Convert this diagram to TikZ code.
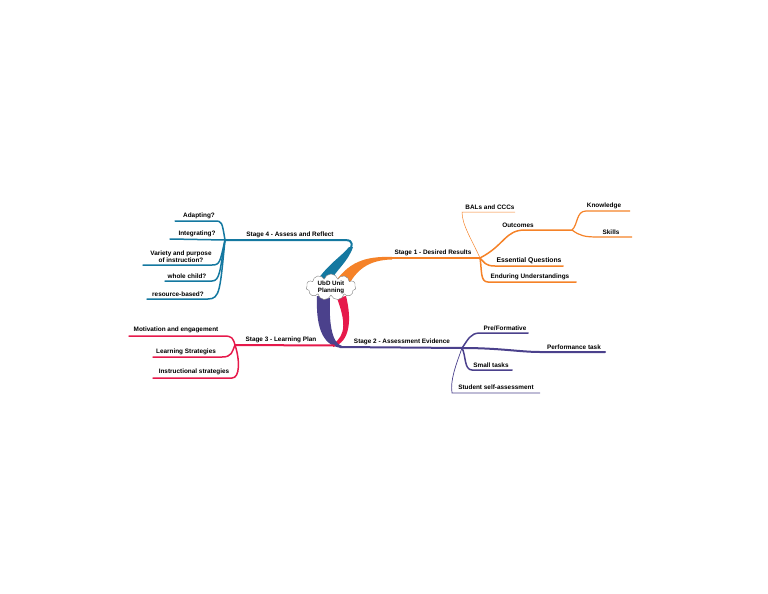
\documentclass[tikz,border=0pt]{standalone}
\usepackage{fontspec}
\setmainfont{Liberation Sans}
\usetikzlibrary{shapes.symbols}
\definecolor{teal4}{RGB}{20,120,160}
\definecolor{org1}{RGB}{245,130,40}
\definecolor{pur2}{RGB}{75,65,140}
\definecolor{red3}{RGB}{230,25,75}
\begin{document}
\begin{tikzpicture}[x=1pt,y=-1pt,
  lab/.style={font=\fontsize{6.4}{7}\selectfont\bfseries, inner sep=1pt, anchor=south},
  br/.style={line width=2pt, line cap=round},
  sub/.style={line width=1.5pt, line cap=round}]
\useasboundingbox (0,0) rectangle (768,594);
% main tapered branches
\fill[red3] (337,298) .. controls (345,320) and (347,335) .. (333,344) -- (333,347) .. controls (350,342) and (352,320) .. (346,296) -- cycle;
\fill[pur2] (317,296) .. controls (316,322) and (320,346) .. (342,348) -- (342,346) .. controls (331,343) and (329,320) .. (330,298) -- cycle;
\fill[teal4] (316,282) .. controls (328,264) and (342,256) .. (349,247) -- (353,247) .. controls (348,262) and (336,270) .. (330,282) -- cycle;
\fill[org1] (333,285) .. controls (348,262) and (365,256) .. (392,257) -- (392,259.5) .. controls (368,260) and (356,270) .. (347,288) -- cycle;
\node[cloud, cloud puffs=11, draw=gray, fill=white, aspect=2, minimum width=50pt, minimum height=26pt, inner sep=0pt, align=center, font=\fontsize{6.2}{7}\selectfont\bfseries] (c) at (331,287) {UbD Unit\\Planning};

% Stage 4
\coordinate (h4) at (225,240);
\draw[teal4,br] (351,248) .. controls (353,240) and (350,240) .. (340,240) -- (h4);
\node[lab] (s4) at (290,239) {Stage 4 - Assess and Reflect};
\node[lab] (a1) at (199,220) {Adapting?};
\node[lab] (a2) at (197,238) {Integrating?};
\node[lab,align=center] (a3) at (181,264) {Variety and purpose\\of instruction?};
\node[lab] (a4) at (187,280) {whole child?};
\node[lab] (a5) at (178,298) {resource-based?};
\draw[teal4,sub] (h4) .. controls (222,222) and (222,221) .. (215,221) -- (175,221);
\draw[teal4,sub] (h4) -- (170,239);
\draw[teal4,sub] (h4) .. controls (220,262) and (220,265) .. (212,265) -- (143,265);
\draw[teal4,sub] (h4) .. controls (220,270) and (220,281) .. (212,281) -- (165,281);
\draw[teal4,sub] (h4) .. controls (220,290) and (220,299) .. (208,299) -- (147,299);

% Stage 1
\coordinate (h1) at (480,258);
\draw[org1,br] (390,258) -- (h1);
\node[lab] (s1) at (433,257) {Stage 1 - Desired Results};
\node[lab] (b1) at (490,211) {BALs and CCCs};
\node[lab] (b2) at (518,229) {Outcomes};
\node[lab] (k1) at (604,210) {Knowledge};
\node[lab] (k2) at (611,236) {Skills};
\node[lab,font=\fontsize{6.8}{7}\selectfont\bfseries] (b3) at (529,265) {Essential Questions};
\node[lab] (b4) at (530,281) {Enduring Understandings};
\draw[org1,line width=0.5pt] (h1) .. controls (472,240) and (462,225) .. (462,212) -- (515,212);
\draw[org1,sub] (h1) .. controls (505,245) and (505,230) .. (525,230) -- (572,230);
\draw[org1,line width=1.2pt] (572,230) .. controls (578,225) and (576,211) .. (586,211) -- (630,211);
\draw[org1,line width=1.2pt] (572,230) .. controls (580,236) and (585,237) .. (598,237) -- (632,237);
\draw[org1,sub] (h1) .. controls (484,262) and (485,266) .. (495,266) -- (563,266);
\draw[org1,sub] (h1) .. controls (482,270) and (480,282) .. (488,282) -- (576,282);

% Stage 2
\coordinate (h2) at (462,348);
\draw[pur2,br] (340,347) -- (h2);
\node[lab] (s2) at (402,346) {Stage 2 - Assessment Evidence};
\node[lab] (p1) at (505,332) {Pre/Formative};
\node[lab] (p2) at (574,351) {Performance task};
\node[lab] (p3) at (491,369) {Small tasks};
\node[lab] (p4) at (496,391) {Student self-assessment};
\draw[pur2,sub] (h2) .. controls (468,340) and (470,333) .. (480,333) -- (528,333);
\draw[pur2,br] (h2) .. controls (500,348) and (520,352) .. (540,352) -- (605,352);
\draw[pur2,sub] (h2) .. controls (466,355) and (464,370) .. (472,370) -- (512,370);
\draw[pur2,line width=0.7pt] (h2) .. controls (456,365) and (450,380) .. (452,393) -- (540,393);

% Stage 3
\coordinate (h3) at (235,345);
\draw[red3,br] (334,345.5) -- (h3);
\node[lab] (s3) at (281,344) {Stage 3 - Learning Plan};
\node[lab] (r1) at (176,334) {Motivation and engagement};
\node[lab] (r2) at (186,356) {Learning Strategies};
\node[lab] (r3) at (194,376) {Instructional strategies};
\draw[red3,sub] (h3) .. controls (233,338) and (232,336) .. (224,336) -- (129,336);
\draw[red3,sub] (h3) .. controls (232,352) and (232,357) .. (222,357) -- (153,357);
\draw[red3,sub] (h3) .. controls (240,360) and (240,378) .. (232,378) -- (153,378);
\end{tikzpicture}
\end{document}
